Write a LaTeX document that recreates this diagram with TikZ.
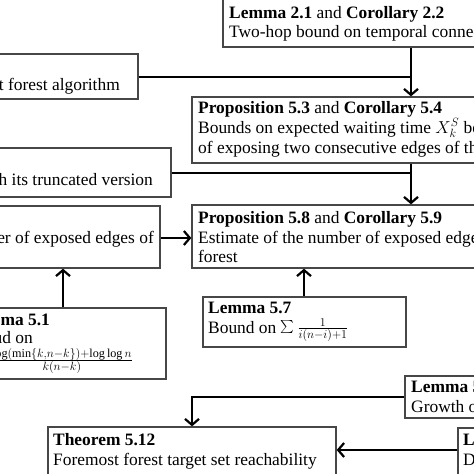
\documentclass[tikz,border=0pt]{standalone}
\usepackage{fontspec}
\setmainfont{Liberation Serif}
\usetikzlibrary{arrows.meta,fit}
\begin{document}
\begin{tikzpicture}[x=1pt,y=-1pt,
 box/.style={draw=black!72, line width=1.3pt, inner sep=0pt},
 txt/.style={inner sep=0pt, font=\fontsize{17.4}{20}\selectfont},
 link/.style={line width=2.5pt},
 conn/.style={line width=2.5pt, -{Straight Barb[length=6pt,width=14pt,line width=2.2pt]}},
 ]
\useasboundingbox (0,0) rectangle (474,474);
\clip (0,0) rectangle (474,474);
% boxes
\node[box, fit={(223,-20) (540,47)}] (A) {};
\node[box, fit={(-100,54) (138,99)}] (B) {};
\node[box, fit={(192,97) (540,163)}] (C) {};
\node[box, fit={(-100,148) (171,197)}] (D) {};
\node[box, fit={(192,205) (540,268)}] (E) {};
\node[box, fit={(-100,206) (160,268)}] (F) {};
\node[box, fit={(-40,308) (166,379)}] (G) {};
\node[box, fit={(203,297) (406,347)}] (H) {};
\node[box, fit={(405,376) (540,418)}] (I) {};
\node[box, fit={(48,427) (336,520)}] (J) {};
\node[box, fit={(458,428) (540,520)}] (K) {};
% texts
\node[txt, anchor=base west] (a1) at (229,18) {\textbf{Lemma 2.1} and \textbf{Corollary 2.2}};
\node[txt, anchor=base west] (a2) at (229,37) {Two-hop bound on temporal connectivity};
\node[txt, anchor=base east] (b1) at (120,90) {t forest algorithm};
\node[txt, anchor=base west] (c1) at (198,113) {\textbf{Proposition 5.3} and \textbf{Corollary 5.4}};
\node[txt, anchor=base west] (c2) at (198,133) {Bounds on expected waiting time $X_k^S$ between};
\node[txt, anchor=base west] (c3) at (198,153) {of exposing two consecutive edges of the};
\node[txt, anchor=base east] (d1) at (153,185) {h its truncated version};
\node[txt, anchor=base west] (e1) at (198,223) {\textbf{Proposition 5.8} and \textbf{Corollary 5.9}};
\node[txt, anchor=base west] (e2) at (198,243) {Estimate of the number of exposed edges};
\node[txt, anchor=base west] (e3) at (198,262) {forest};
\node[txt, anchor=base east] (f1) at (154,243) {er of exposed edges of};
\node[txt, anchor=base east] (g1) at (50,325) {\textbf{ma 5.1}};
\node[txt, anchor=base east] (g2) at (33,343) {ud on};
\node[txt, anchor=base east] (g3) at (133,365) {$\frac{\log(\min\{k,n-k\})+\log\log n}{k(n-k)}$};
\node[txt, anchor=base west] (h1) at (208,313) {\textbf{Lemma 5.7}};
\node[txt, anchor=base west] (h2) at (208,333) {Bound on $\mathop{\scalebox{1.3}{$\sum$}}\frac{1}{i(n-i)+1}$};
\node[txt, anchor=base west] (i1) at (411,392) {\textbf{Lemma 5.10}};
\node[txt, anchor=base west] (i2) at (411,412) {Growth of};
\node[txt, anchor=base west] (j1t) at (53,445) {\textbf{Theorem 5.12}};
\node[txt, anchor=base west] (j2t) at (53,465) {Foremost forest target set reachability};
\node[txt, anchor=base west] (k1) at (463,445) {\textbf{L}};
\node[txt, anchor=base west] (k2) at (463,465) {D};
% connectors
\coordinate (m1) at (411,77);
\coordinate (m2) at (411,173);
\coordinate (m3) at (0,238);
\coordinate (m4) at (63,0);
\coordinate (m5) at (304,0);
\coordinate (m6) at (192,397);
\coordinate (m7) at (0,450);
\draw[conn] (A.south -| m1) -- (C.north -| m1);
\draw[link] (B.east |- m1) -- (m1);
\draw[conn] (C.south -| m2) -- (E.north -| m2);
\draw[link] (D.east |- m2) -- (m2);
\draw[conn] (F.east |- m3) -- (E.west |- m3);
\draw[conn] (G.north -| m4) -- (F.south -| m4);
\draw[conn] (H.north -| m5) -- (E.south -| m5);
\draw[conn] (I.west |- m6) -- (m6) -- (J.north -| m6);
\draw[conn] (K.west |- m7) -- (J.east |- m7);
\end{tikzpicture}
\end{document}
